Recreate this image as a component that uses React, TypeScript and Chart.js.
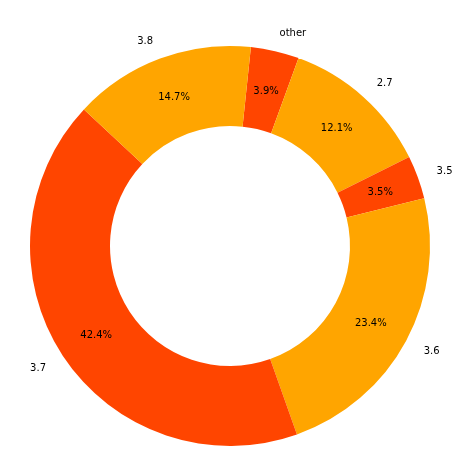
import React, { useEffect, useRef } from "react";
import { Chart, registerables } from "chart.js";

Chart.register(...registerables);

const categories = ["other", "2.7", "3.5", "3.6", "3.7", "3.8"];
const shares = [3.9, 12.1, 3.5, 23.4, 42.4, 14.7];
const colors = ["#FF4500", "#FFA500", "#FF4500", "#FFA500", "#FF4500", "#FFA500"];

const labelPlugin = {
  id: "pieLabels",
  afterDatasetsDraw(chart: any) {
    const ctx = chart.ctx;
    const meta = chart.getDatasetMeta(0);
    const data = chart.data.datasets[0].data as number[];
    const total = data.reduce((a, b) => a + b, 0);
    ctx.save();
    ctx.font = "10px 'DejaVu Sans'";
    ctx.fillStyle = "#000";
    ctx.textBaseline = "middle";
    const dy = 1.5;
    meta.data.forEach((arc: any, i: number) => {
      const { x, y, startAngle, endAngle, outerRadius } = arc.getProps(
        ["x", "y", "startAngle", "endAngle", "outerRadius"],
        true
      );
      const mid = (startAngle + endAngle) / 2;
      const c = Math.cos(mid);
      const s = Math.sin(mid);
      const lx = x + c * outerRadius * 1.1;
      const ly = y + s * outerRadius * 1.1;
      ctx.textAlign = c >= 0 ? "left" : "right";
      ctx.fillText(String(chart.data.labels[i]), lx, ly + dy);
      const px = x + c * outerRadius * 0.8;
      const py = y + s * outerRadius * 0.8;
      ctx.textAlign = "center";
      ctx.fillText(((data[i] / total) * 100).toFixed(1) + "%", px, py + dy);
    });
    ctx.restore();
  },
};

export default function App() {
  const ref = useRef<HTMLCanvasElement>(null);
  useEffect(() => {
    const chart = new Chart(ref.current!, {
      type: "doughnut",
      data: {
        labels: categories,
        datasets: [
          {
            data: shares,
            backgroundColor: colors,
            borderWidth: 0,
          },
        ],
      },
      options: {
        responsive: false,
        animation: false,
        cutout: "60%",
        rotation: 6,
        layout: { padding: { left: 30, right: 44, top: 46, bottom: 28 } },
        plugins: {
          legend: { display: false },
          tooltip: { enabled: false },
        },
      },
      plugins: [labelPlugin],
    });
    return () => chart.destroy();
  }, []);
  return (
    <div style={{ position: "fixed", left: 0, top: 0, width: 474, height: 474, background: "#fff" }}>
      <canvas ref={ref} width={474} height={474} style={{ width: 474, height: 474 }} />
    </div>
  );
}
